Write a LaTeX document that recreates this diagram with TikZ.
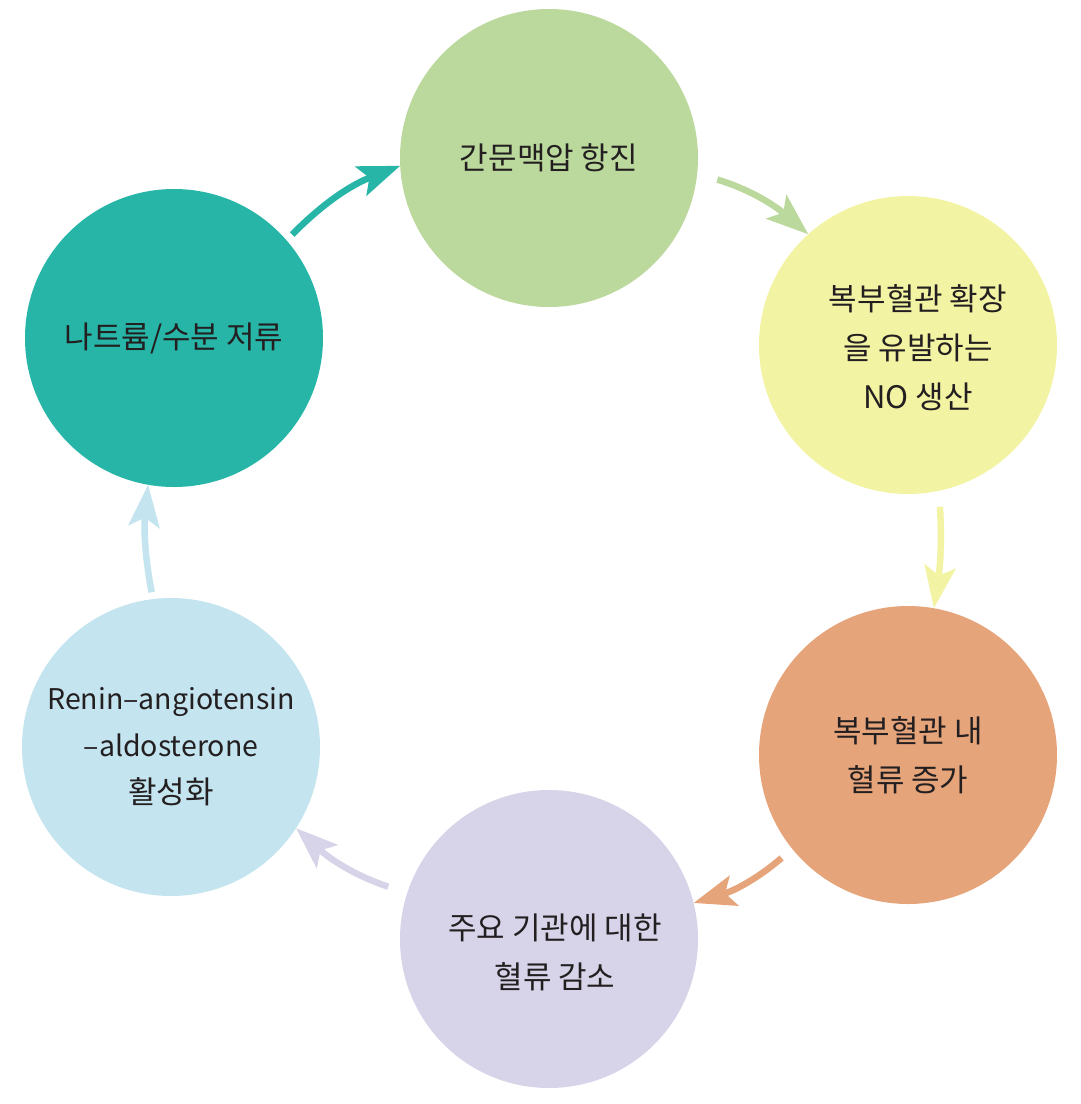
\documentclass[tikz,border=0pt]{standalone}
\usepackage{fontspec}
\setmainfont{Noto Sans CJK KR}
\usetikzlibrary{arrows.meta}
\definecolor{cteal}{HTML}{27B5A7}
\definecolor{cgreen}{HTML}{BCD99D}
\definecolor{cyellow}{HTML}{F3F3A4}
\definecolor{corange}{HTML}{E6A47B}
\definecolor{clav}{HTML}{D7D4E9}
\definecolor{cblue}{HTML}{C4E4EF}
\definecolor{ctext}{HTML}{231F20}
\tikzset{
  stagetext/.style={text=ctext, align=center, font=\fontsize{31}{49}\selectfont},
  stage/.style={circle, minimum size=298pt, inner sep=0pt, outer sep=0pt, stagetext},
  cyc/.style={line width=6.5pt, -{Stealth[length=42pt,width=31pt,inset=9pt]}},
}
\newcommand{\latn}{\fontsize{28.5}{47}\selectfont}
\begin{document}
\begin{tikzpicture}[x=1pt,y=1pt]
\useasboundingbox (0,0) rectangle (1081,-1104);

\node[stage, fill=cgreen] (ganmun) at (549,-158) {간문맥압 항진};
\node[stage, fill=cyellow, label={[stagetext, xshift=10pt, yshift=-3pt]center:복부혈관 확장\\을 유발하는\\NO 생산}]
  (hwakjang) at (908,-345) {};
\node[stage, fill=corange] (hyeollyu) at (908,-755) {복부혈관 내\\혈류 증가};
\node[stage, fill=clav, label={[stagetext, xshift=6pt, yshift=-13pt]center:주요 기관에 대한\\혈류 감소}]
  (gamso) at (549,-939) {};
\node[stage, fill=cblue, font=\latn] (raas) at (171,-747) {Renin–angiotensin\\–aldosterone\\{\fontsize{31}{47}\selectfont 활성화}};
\node[stage, fill=cteal] (natri) at (174,-338) {나트륨/수분 저류};

\draw[cyc, cteal, shorten <=8pt] (natri.41) to[bend left=12] (ganmun.183);
\draw[cyc, cgreen, shorten <=21pt] (ganmun.-6) to[bend left=12] (hwakjang.132);
\draw[cyc, cyellow, shorten <=16pt] (hwakjang.-78) to[bend left=6] (hyeollyu.80);
\draw[cyc, corange, shorten <=14pt] (hyeollyu.219) to[bend left=12] (gamso.14);
\draw[cyc, clav, shorten <=20pt] (gamso.162) to[bend left=12] (raas.-33);
\draw[cyc, cblue, shorten <=7pt] (raas.97) to[bend left=8] (natri.260);
\end{tikzpicture}
\end{document}
